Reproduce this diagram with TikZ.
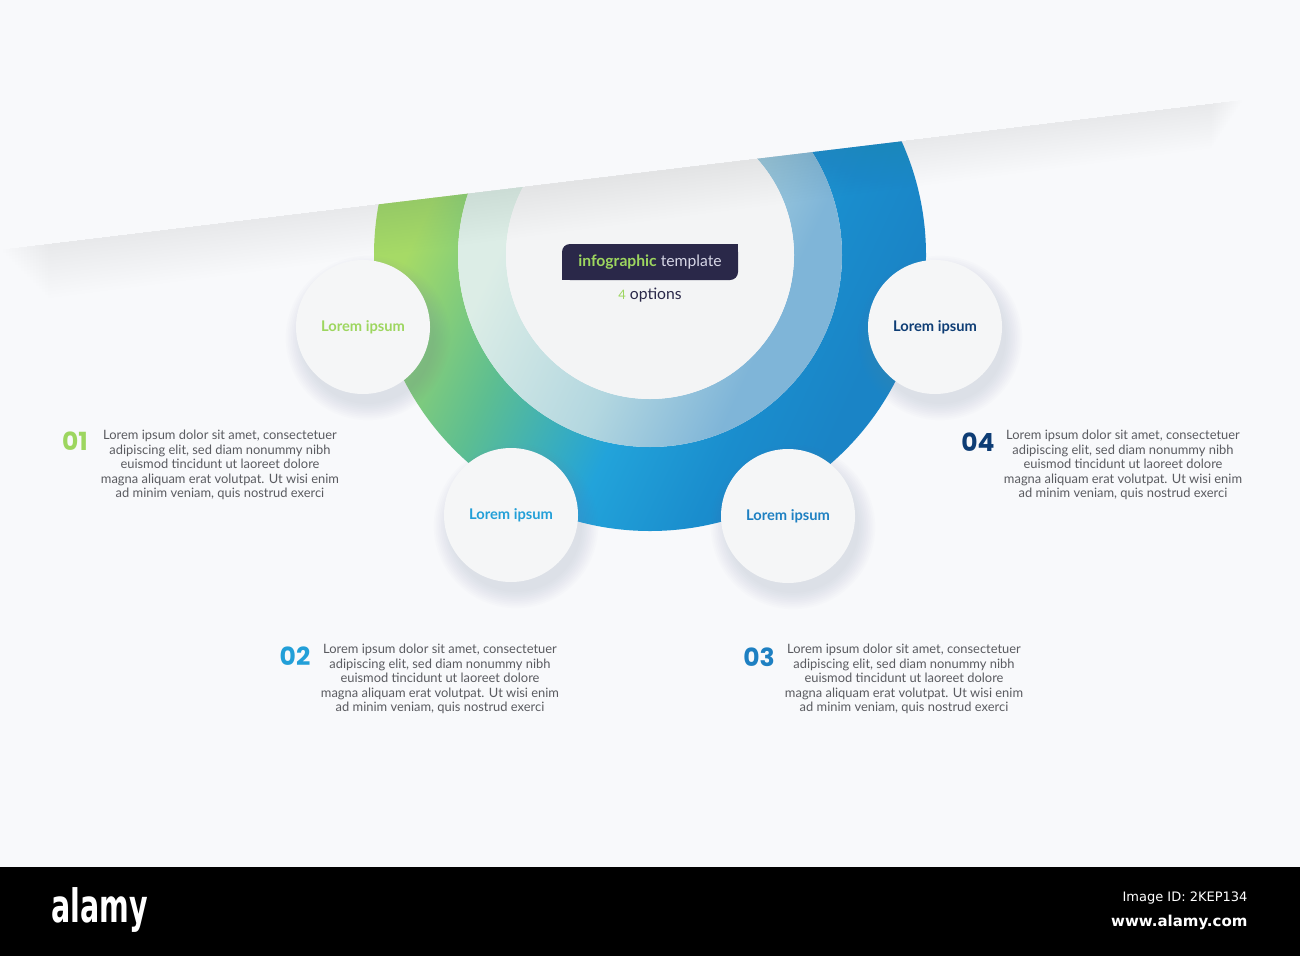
\documentclass[tikz,border=0pt]{standalone}
\usepackage{fontspec}
\setmainfont{Lato}
\newfontfamily\headfont{Poppins}
\newfontfamily\markfont{DejaVu Sans}
\usetikzlibrary{positioning}

\definecolor{bgwhite}{HTML}{F8F9FB}
\definecolor{bubblewhite}{HTML}{F5F6F7}
\definecolor{discgrey}{HTML}{F3F4F5}
\definecolor{leafgreen}{HTML}{9DD65F}
\definecolor{skyblue}{HTML}{229FD8}
\definecolor{oceanblue}{HTML}{1E80C2}
\definecolor{navyblue}{HTML}{0E3D75}
\definecolor{inkgrey}{HTML}{5A5B60}
\definecolor{boxnavy}{HTML}{2A2849}
\definecolor{paletext}{HTML}{D6D6E6}
\definecolor{shadowblue}{HTML}{7C84B0}
\definecolor{edgegrey}{HTML}{7A8796}
% ring colours
\definecolor{ringA}{HTML}{A6DA66}
\definecolor{ringB}{HTML}{5DBE91}
\definecolor{ringC}{HTML}{22A3DA}
\definecolor{ringD}{HTML}{1A8DCD}
\definecolor{ringE}{HTML}{1A84C6}
\definecolor{paleA}{HTML}{DCEDE6}
\definecolor{paleB}{HTML}{B3D7E0}
\definecolor{paleC}{HTML}{7FB5D8}

\pgfdeclarehorizontalshading{ringshade}{100bp}{color(0bp)=(ringA); color(30bp)=(ringA);
  color(42bp)=(ringB); color(54bp)=(ringC); color(64bp)=(ringD); color(72bp)=(ringE); color(100bp)=(ringE)}
\pgfdeclarehorizontalshading{paleshade}{100bp}{color(0bp)=(paleA); color(32bp)=(paleA);
  color(52bp)=(paleB); color(68bp)=(paleC); color(100bp)=(paleC)}

\newcommand{\loremtext}{Lorem ipsum dolor sit amet, consectetuer\\adipiscing elit, sed diam nonummy nibh\\
  euismod tincidunt ut laoreet dolore\\magna aliquam erat volutpat. Ut wisi enim\\ad minim veniam, quis nostrud exerci}

\begin{document}
\begin{tikzpicture}[x=1pt,y=-1pt,
    bubble/.style={circle,fill=bubblewhite,minimum size=134pt,inner sep=0pt,
      font=\fontsize{14.7}{16}\selectfont\bfseries},
    numlabel/.style={font=\headfont\bfseries\fontsize{25}{25}\selectfont},
    para/.style={align=center,text=inkgrey,font=\fontsize{12.9}{14.5}\selectfont}]
\useasboundingbox (0,0) rectangle (1300,956);
\fill[bgwhite] (0,0) rectangle (1300,867);

% ring, cut by the diagonal sheet
\begin{scope}
  \clip (0,250) -- (1244,100) -- (1300,93) -- (1300,867) -- (0,867) -- cycle;
  \shade[shading=ringshade,shading angle=-25,even odd rule]
    (650,255) circle[radius=276] (650,255) circle[radius=192];
  \shade[shading=paleshade,shading angle=-25,even odd rule]
    (650,255) circle[radius=192] (650,255) circle[radius=144];
  \fill[discgrey] (650,255) circle[radius=144];
\end{scope}

% shadow under the sheet edge
\foreach \k in {1,...,16}
  \fill[edgegrey,opacity=0.0065] ({3*\k},{250-0.36*\k}) -- ({1244-2*\k},{100+0.24*\k})
    -- ({1244-2*\k},{100+3*\k}) -- ({3*\k},{250+3*\k}) -- cycle;

% centre label
\node[fill=boxnavy,rounded corners=8pt,minimum width=176pt,minimum height=36pt,inner sep=0pt] (BOX) at (650,262) {};
\fill[boxnavy] (BOX.north east) rectangle ([shift={(-10,10)}]BOX.north east);
\fill[boxnavy] (BOX.south west) rectangle ([shift={(10,-10)}]BOX.south west);
\node[font=\fontsize{15.7}{17}\selectfont] at (BOX) {\textcolor{leafgreen}{\bfseries infographic} \textcolor{paletext}{template}};
\node[below=4pt of BOX,font=\fontsize{15.7}{17}\selectfont,text=boxnavy] (OPT)
  {\textcolor{leafgreen}{\fontsize{13}{14}\selectfont 4} options};

% option bubbles
\coordinate (P1) at (363,327);
\coordinate (P2) at (511,515);
\coordinate (P3) at (788,516);
\coordinate (P4) at (935,327);
\foreach \p in {P1,P2,P3,P4}
  \foreach \k in {0,...,9}
    \fill[shadowblue,opacity=0.02] ([shift={(5,11)}]\p) circle[radius={66+1.8*\k}];

\node[bubble,text=leafgreen] (C1) at (P1) {Lorem ipsum};
\node[bubble,text=skyblue] (C2) at (P2) {Lorem ipsum};
\node[bubble,text=oceanblue] (C3) at (P3) {Lorem ipsum};
\node[bubble,text=navyblue] (C4) at (P4) {Lorem ipsum};

% numbers and texts
\node[numlabel,text=leafgreen] (N1) at (75,441) {01};
\node[numlabel,text=skyblue] (N2) at (295,656) {02};
\node[numlabel,text=oceanblue] (N3) at (759,657) {03};
\node[numlabel,text=navyblue] (N4) at (978,442) {04};

\node[para] (T1) at (220,465) {\loremtext};
\node[para] (T2) at (440,679) {\loremtext};
\node[para] (T3) at (904,679) {\loremtext};
\node[para] (T4) at (1123,465) {\loremtext};

% stock bar
\fill[black] (0,867) rectangle (1300,956);
\node[text=white,font=\markfont\bfseries\fontsize{46}{46}\selectfont,anchor=west] (AL) at (48,910)
  {\scalebox{0.62}[1]{alamy}};
\node[text=white,font=\markfont\fontsize{13}{14}\selectfont,anchor=east] (ID) at (1251,898)
  {Image ID: 2KEP134};
\node[text=white,font=\markfont\bfseries\fontsize{15}{16}\selectfont,anchor=east] (WW) at (1251,922)
  {www.alamy.com};
\end{tikzpicture}
\end{document}
